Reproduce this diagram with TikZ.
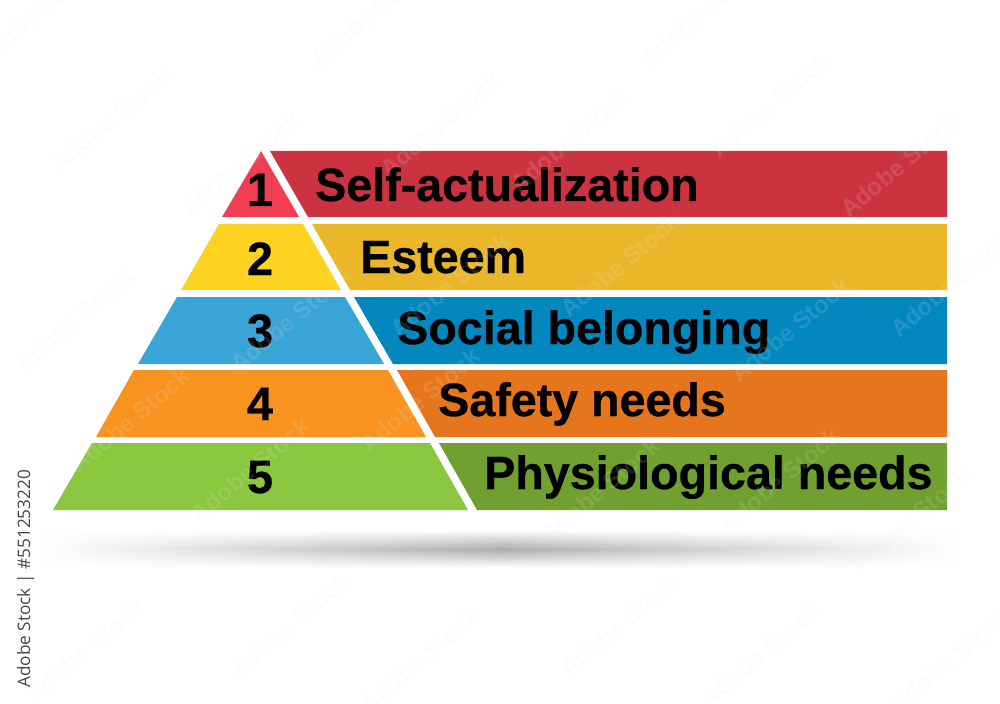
\documentclass[tikz,border=0pt]{standalone}
\usepackage{fontspec}
\setmainfont{Liberation Sans}
\newfontfamily\creditfont{Open Sans}
\newfontfamily\heavyfont[FakeBold=0.6]{Liberation Sans Bold}
\usetikzlibrary{fadings}
\definecolor{cA}{HTML}{F23E52}\definecolor{bA}{HTML}{CC3341}
\definecolor{cB}{HTML}{FDD221}\definecolor{bB}{HTML}{EAB72B}
\definecolor{cC}{HTML}{39A4D6}\definecolor{bC}{HTML}{0387BF}
\definecolor{cD}{HTML}{F7931E}\definecolor{bD}{HTML}{E5761D}
\definecolor{cE}{HTML}{8AC73E}\definecolor{bE}{HTML}{6FA030}
\tikzfading[name=sideways, left color=transparent!100, right color=transparent!100, middle color=transparent!0]
\tikzset{
  lab/.style={font=\fontsize{39.8pt}{42pt}\heavyfont,text=black,anchor=base west,inner sep=0pt},
  num/.style={font=\fontsize{40pt}{42pt}\heavyfont,text=black,anchor=base,inner sep=0pt},
  side/.style={font=\fontsize{14.7pt}{15pt}\creditfont,text=black!72,rotate=90,anchor=base west,inner sep=0pt},
  wmark/.style={font=\fontsize{20.5pt}{22pt}\selectfont\bfseries,rotate=40,inner sep=0pt,text=black!8,text opacity=0.14}
}
\newcommand{\wmlist}{35/15,370/15,700/15,110/120,440/125,770/105,240/165,570/140,900/165,
  75/320,130/420,290/320,450/285,620/265,790/330,950/285,250/470,420/400,
  600/490,780/480,910/520,85/650,290/625,420/660,620/625,760/655,950/660}
\begin{document}
\begin{tikzpicture}[x=0.03cm,y=-0.03cm]
\useasboundingbox (0,0) rectangle (1000,704);
\fill[white] (0,0) rectangle (1000,704);
% floor shadow
\shade[top color=white,bottom color=white,middle color=black!32,path fading=sideways]
  (40,530) rectangle (960,568);
% pyramid
\fill[cA] (261,151) -- (299,217) -- (222,217) -- cycle;
\fill[cB] (219,224) -- (303,224) -- (341,290) -- (181,290) -- cycle;
\fill[cC] (177,297) -- (345,297) -- (384,364) -- (138,364) -- cycle;
\fill[cD] (134,370) -- (388,370) -- (426,437) -- (96,437) -- cycle;
\fill[cE] (92,443) -- (430,443) -- (468,510) -- (53,510) -- cycle;
% bars
\fill[bA] (270,151) -- (947,151) -- (947,217) -- (308,217) -- cycle;
\fill[bB] (312,224) -- (947,224) -- (947,290) -- (350,290) -- cycle;
\fill[bC] (354,297) -- (947,297) -- (947,364) -- (393,364) -- cycle;
\fill[bD] (397,370) -- (947,370) -- (947,437) -- (435,437) -- cycle;
\fill[bE] (439,443) -- (947,443) -- (947,510) -- (477,510) -- cycle;
% numbers
\node[num] (n1) at (260,206) {1};
\node[num] (n2) at (260,275) {2};
\node[num] (n3) at (260,347) {3};
\node[num] (n4) at (260,420) {4};
\node[num] (n5) at (260,493) {5};
% labels
\node[lab] (l1) at (315,201) {Self-actualization};
\node[lab] (l2) at (360,273) {Esteem};
\node[lab] (l3) at (397,344) {Social belonging};
\node[lab] (l4) at (438,416) {Safety needs};
\node[lab] (l5) at (484,489) {Physiological needs};
% faint repeated marks
\foreach \a/\b [count=\i] in \wmlist {\node[wmark] (wm\i) at (\a,\b) {Adobe Stock};}
% side credit
\node[side] (credit) at (30,688) {Adobe Stock | \#551253220};
\end{tikzpicture}
\end{document}
